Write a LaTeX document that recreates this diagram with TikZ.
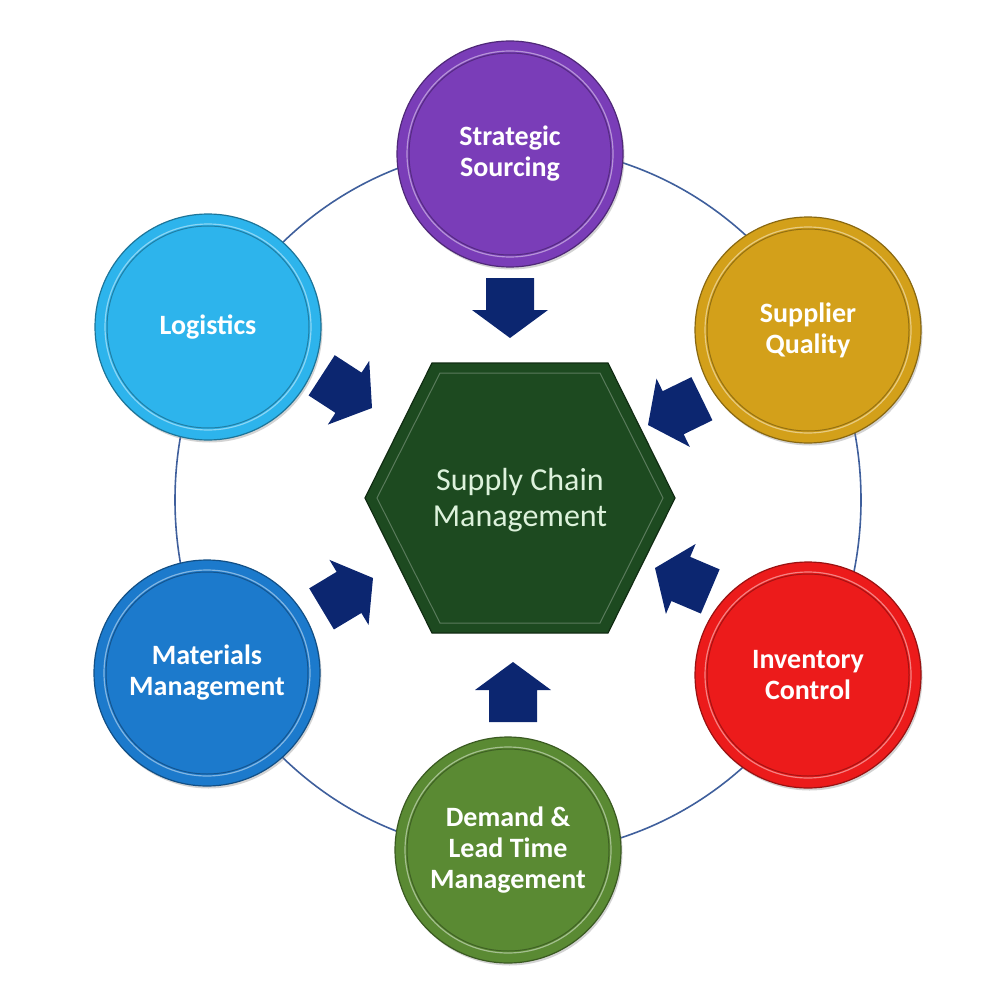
\documentclass[tikz,border=0pt]{standalone}
\usepackage{fontspec}
\setmainfont{Carlito}
\usepackage{xcolor}
\usetikzlibrary{shadows}
\definecolor{scpurple}{HTML}{7A3DB8}
\definecolor{sccyan}{HTML}{2DB4EC}
\definecolor{scgold}{HTML}{D3A01A}
\definecolor{scred}{HTML}{EC1B1B}
\definecolor{scblue}{HTML}{1C7ACC}
\definecolor{scgreen}{HTML}{5A8A33}
\definecolor{schub}{HTML}{1D4A20}
\definecolor{schubtext}{HTML}{DDF2DC}
\definecolor{scnavy}{HTML}{0C2670}
\definecolor{scring}{HTML}{3F5F9C}
\tikzset{
  area/.style={circle, minimum size=226pt, inner sep=0pt, align=center, text=white,
               font=\fontsize{28}{31}\selectfont\bfseries, fill=#1, draw=#1!65!black,
               line width=1.2pt,
               drop shadow={shadow xshift=1.5pt, shadow yshift=-2.5pt, opacity=.35},
               path picture={
                 \draw[#1!55!white, line width=1.2pt]
                   (path picture bounding box.center) circle[radius=103pt];
                 \draw[#1!70!black, line width=1pt]
                   (path picture bounding box.center) circle[radius=101pt];}},
  hubframe/.style={fill=schub, draw=schub!60!black, line width=1.2pt},
  hubedge/.style={draw=schub!55!white, line width=1pt, opacity=.6},
  hub/.style={align=center, text=schubtext, font=\fontsize{32}{36}\selectfont, inner sep=0pt},
  ring/.style={draw=scring, line width=1.6pt},
  pics/inflow/.style={code={
    \fill[scnavy] (0,0) -- (-28,38) -- (-28,24) -- (-60,24) -- (-60,-24)
       -- (-28,-24) -- (-28,-38) -- cycle;}},
}
\begin{document}
\begin{tikzpicture}[x=1pt,y=-1pt]
\useasboundingbox (0,0) rectangle (1000,1000);

% ring behind the areas
\draw[ring] (518,500) ellipse [x radius=343, y radius=354];

% hub
\filldraw[hubframe] (432,363) -- (608,363) -- (675,498) -- (608,633)
   -- (432,633) -- (365,498) -- cycle;
\draw[hubedge] (440,373) -- (600,373) -- (663,498) -- (600,623)
   -- (440,623) -- (377,498) -- cycle;
\node[hub] (scm) at (520,500) {Supply Chain\\Management};

% areas round the ring
\node[area=scpurple] (sourcing) at (510,154) {Strategic\\Sourcing};
\node[area=sccyan] (logistics) at (208,327) {Logistics};
\node[area=scgold] (quality) at (808,330) {Supplier\\Quality};
\node[area=scblue] (materials) at (207,673) {Materials\\Management};
\node[area=scred] (inventory) at (808,675) {Inventory\\Control};
\node[area=scgreen] (demand) at (508,850) {Demand \&\\Lead Time\\Management};

% inflow arrows, placed at their tips
\pic[rotate=-90] (inSourcing) at (510,338) {inflow};
\pic[rotate=-33] (inLogistics) at (372,408) {inflow};
\pic[rotate=206] (inQuality) at (648,425) {inflow};
\pic[rotate=31] (inMaterials) at (373,578) {inflow};
\pic[rotate=157] (inInventory) at (655,568) {inflow};
\pic[rotate=90] (inDemand) at (513,662) {inflow};
\end{tikzpicture}
\end{document}
